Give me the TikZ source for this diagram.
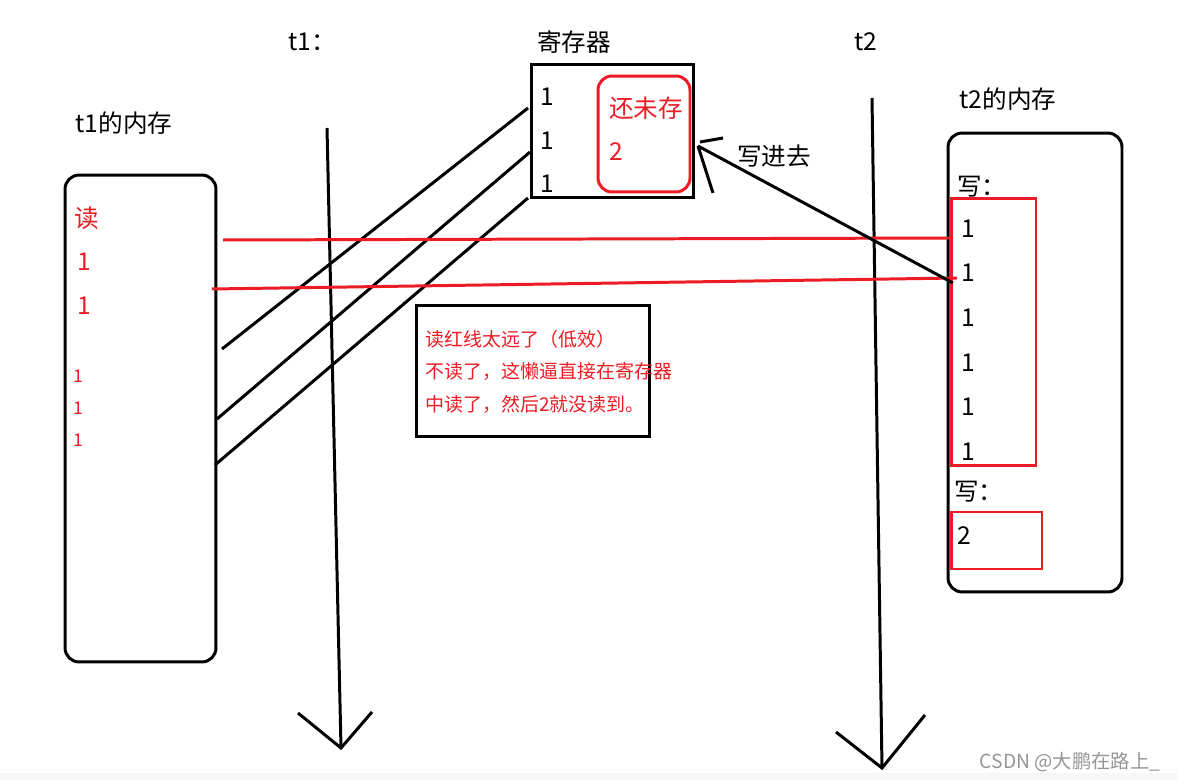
\documentclass[tikz,border=0pt]{standalone}
\usepackage{fontspec}
\setmainfont{Noto Sans CJK SC}
\usetikzlibrary{positioning}
\definecolor{inkred}{RGB}{237,28,36}
\definecolor{markgray}{RGB}{150,150,150}

\begin{document}
\begin{tikzpicture}[x=0.02cm, y=-0.02cm,
    pen/.style={line width=1.7pt, black},
    redpen/.style={line width=1.7pt, inkred},
    membox/.style={draw, line width=1.7pt, rounded corners=8pt, inner sep=0pt},
    regbox/.style={draw, line width=1.7pt, inner sep=0pt},
    redbox/.style={draw=inkred, line width=1.7pt, inner sep=0pt},
    label/.style={font=\fontsize{14}{16}\selectfont, inner sep=0pt},
    redlabel/.style={label, text=inkred},
    tiny1/.style={font=\fontsize{10}{11}\selectfont, text=inkred, inner sep=0pt, anchor=west},
    note/.style={font=\fontsize{10.8}{12}\selectfont, text=inkred, inner sep=0pt, anchor=west}
]

% Canvas
\useasboundingbox (0,0) rectangle (1177,780);
\fill[white] (0,0) rectangle (1177,780);
\fill[gray!6] (0,773) rectangle (1177,780);

% Memory of t1
\node[label] (t1memlab) at (124,123) {t1的内存};
\node[membox, minimum width=3.02cm, minimum height=9.74cm] (t1mem) at (140.5,418.5) {};
\node[redlabel, anchor=west] (rd) at (74,218) {读};
\node[redlabel, anchor=west] (r1) at (77,262) {1};
\node[redlabel, anchor=west] (r2) at (77,306) {1};
\node[tiny1] (s1) at (73,376) {1};
\node[tiny1] (s2) at (73,408) {1};
\node[tiny1] (s3) at (73,440) {1};

% Register
\node[label] (reglab) at (574,42) {寄存器};
\node[regbox, minimum width=3.26cm, minimum height=2.68cm] (reg) at (612.5,131) {};
\node[label, anchor=west] (g1) at (540,97) {1};
\node[label, anchor=west] (g2) at (540,141) {1};
\node[label, anchor=west] (g3) at (540,184) {1};
\node[draw=inkred, line width=1.7pt, rounded corners=8pt, minimum width=1.84cm, minimum height=2.32cm, inner sep=0pt] (pending) at (644,134) {};
\node[redlabel] (notyet) at (646,108) {还未存};
\node[redlabel, anchor=west] (two) at (609,152) {2};

% Thread t1
\node[label] (t1lab) at (312,42) {t1：};
\coordinate (t1top) at (327,128);
\coordinate (t1end) at (341,748);
\draw[pen] (t1top) -- (t1end);
\draw[pen] (298,713) -- (t1end) -- (372,712);

% Thread t2
\node[label] (t2lab) at (866,42) {t2};
\coordinate (t2top) at (872,98);
\coordinate (t2end) at (882,768);
\draw[pen] (t2top) -- (t2end);
\draw[pen] (836,732) -- (t2end) -- (925,715);

% Memory of t2
\node[label] (t2memlab) at (1008,99) {t2的内存};
\node[membox, minimum width=3.48cm, minimum height=9.18cm] (t2mem) at (1035,362.5) {};
\node[label, anchor=west] (w1) at (957,187) {写：};
\node[redbox, minimum width=1.7cm, minimum height=5.36cm] (wbox) at (993.5,332) {};
\foreach \y [count=\i] in {229,273,318,363,407,452}
  \node[label, anchor=west] (v\i) at (961,\y) {1};
\node[label, anchor=west] (w2) at (954,492) {写：};
\node[redbox, minimum width=1.82cm, minimum height=1.14cm] (wbox2) at (996.5,540.5) {};
\node[label, anchor=west] (v7) at (957,536) {2};

% Reads from register into t1 memory
\coordinate (ra) at (528,108);  \coordinate (la) at (222,349);
\coordinate (rb) at (530,152);  \coordinate (lb) at (217,419);
\coordinate (rc) at (528,198);  \coordinate (lc) at (215,465);
\draw[pen] (ra) -- (la);
\draw[pen] (rb) -- (lb);
\draw[pen] (rc) -- (lc);

% Red read lines from t2 memory
\coordinate (ka) at (223,240);  \coordinate (ma) at (950,238);
\coordinate (kb) at (212,289);  \coordinate (mb) at (957,278);
\draw[redpen] (ka) -- (ma);
\draw[redpen] (kb) -- (mb);

% Write back into register
\coordinate (wfrom) at (953,283);
\coordinate (wtip) at (698,146);
\draw[pen] (wfrom) -- (wtip);
\draw[pen] (723,138) -- (700,142);
\draw[pen] (wtip) -- (713,193);
\node[label] (wlab) at (774,156) {写进去};

% Note
\node[regbox, minimum width=4.68cm, minimum height=2.64cm] (notebox) at (533,371) {};
\node[note] (n1) at (425,339) {读红线太远了（低效）};
\node[note] (n2) at (425,371) {不读了，这懒逼直接在寄存器};
\node[note] (n3) at (425,404) {中读了，然后2就没读到。};

% Watermark
\node[font=\fontsize{11}{12}\selectfont, text=markgray, inner sep=0pt] (mark) at (1070,762) {CSDN @大鹏在路上\_};

\end{tikzpicture}
\end{document}
